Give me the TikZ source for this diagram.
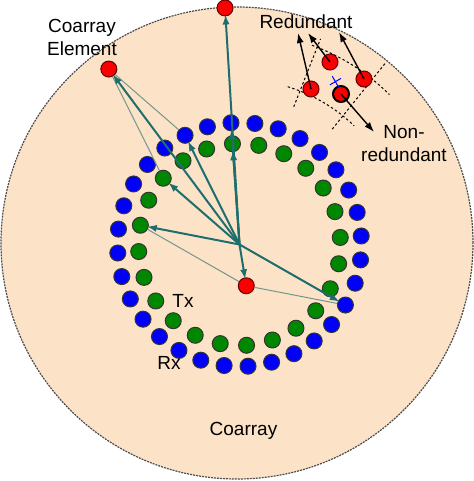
\documentclass[tikz,border=0pt]{standalone}
\usepackage{fontspec}
\setmainfont{Liberation Sans}
\usetikzlibrary{calc,arrows.meta,shapes.misc}

\definecolor{peach}{RGB}{252,227,200}
\definecolor{vecteal}{RGB}{30,110,110}
\definecolor{sumgray}{RGB}{115,150,140}
\definecolor{rxblue}{RGB}{0,0,250}
\definecolor{txgreen}{RGB}{0,135,0}
\definecolor{cored}{RGB}{250,0,0}

\begin{document}
\begin{tikzpicture}[x=0.5pt,y=0.5pt,
    font=\fontsize{9.5}{11.5}\selectfont,
    dot/.style={circle,inner sep=0pt,minimum size=8pt,line width=0.5pt},
    rxdot/.style={dot,fill=rxblue,draw=black!80},
    txdot/.style={dot,fill=txgreen,draw=black!80},
    codot/.style={dot,fill=cored,draw=red!40!black},
    vec/.style={draw=vecteal,line width=1pt,-{Latex[length=5pt,width=3.6pt]},shorten >=-1pt},
    sumline/.style={draw=sumgray,line width=0.5pt},
    cellline/.style={draw=black,line width=0.5pt,dash pattern=on 1.2pt off 1.2pt},
    tag/.style={draw=black,line width=0.7pt,-{Latex[length=5pt,width=3.5pt]}}]
    \useasboundingbox (-239.5,-236.5) rectangle (234.5,244.5);
    % coarray disc
    \draw[fill=peach,draw=black!70,line width=0.6pt,dash pattern=on 1pt off 0.5pt] (-2.5,1.5) circle (236);
    % cell round the redundant points
    \draw[cellline] (68.5:148) -- (68.5:221);
    \draw[cellline] (51.2:148) -- (51.2:232);
    \draw[cellline] (70:212) arc[start angle=70,end angle=45,radius=212];
    \draw[cellline] (73:165) arc[start angle=73,end angle=46,radius=165];
    % Rx and Tx rings
    \foreach \k in {0,...,31} \node[rxdot] (b\k) at ({4+11.25*\k}:122) {};
    \foreach \k in {0,...,23} \node[txdot] (g\k) at ({4+15*\k}:101) {};
    \coordinate (o) at (0,0);
    % coarray elements
    \node[codot] (c1) at ($(g9)+(b10)$) {};
    \node[codot] (c2) at ($(g11)+(b29)$) {};
    \node[codot] (c3) at (93.5:237) {};
    \node[codot] (ra) at (71.5,155.5) {};
    \node[codot] (rb) at (90.5,182.5) {};
    \node[codot] (rc) at (124.5,165.5) {};
    \node[codot,draw=black,line width=1pt] (nr) at (101.5,150.5) {};
    \node[cross out,draw=blue,minimum size=4pt,inner sep=0pt,line width=0.5pt,rotate=-15] (mid) at (59.5:189) {};
    % sums
    \draw[sumline] (g9) -- (c1);
    \draw[sumline] (b10) -- (c1);
    \draw[sumline] (g11) -- (c2);
    \draw[sumline] (b29) -- (c2);
    \foreach \n in {g6,b8,c3,g9,b10,c1,g11,b29,c2} \draw[vec] (o) -- (\n);
    % redundant / non-redundant
    \coordinate (ta) at (58.5,211.5);
    \coordinate (tb) at (68.5,211.5);
    \coordinate (tc) at (99.5,212.5);
    \coordinate (tn) at (134.5,112.5);
    \draw[tag] (ra.center) -- (ta);
    \draw[tag] (rb.center) -- (tb);
    \draw[tag] (rc.center) -- (tc);
    \draw[tag] (nr.center) -- (tn);
    % labels
    \node[align=center] (lbl-elem) at (-157.5,207.5) {Coarray\\Element};
    \node (lbl-red) at (66.5,222.5) {Redundant};
    \node[align=center] (lbl-nonred) at (164.5,100.5) {Non-\\redundant};
    \node (lbl-tx) at (-56.5,-56.5) {Tx};
    \node (lbl-rx) at (-70.5,-118.5) {Rx};
    \node (lbl-co) at (4,-186.5) {Coarray};
\end{tikzpicture}
\end{document}
